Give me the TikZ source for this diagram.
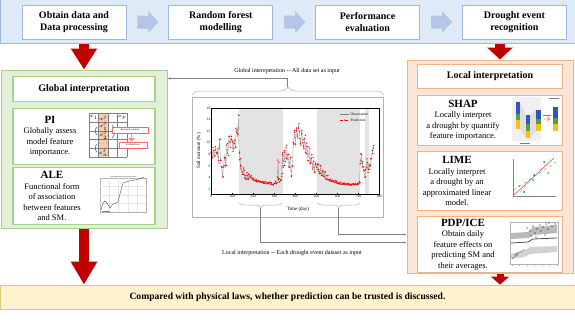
\documentclass[tikz,border=0pt]{standalone}
\usepackage{fontspec}
\setmainfont{Liberation Serif}
\usetikzlibrary{arrows.meta,positioning,calc,shapes.arrows,decorations.pathreplacing}
\definecolor{bc}{RGB}{222,235,247}
\definecolor{bd}{RGB}{157,185,225}
\definecolor{ch}{RGB}{180,197,231}
\definecolor{gc}{RGB}{226,240,217}
\definecolor{gd}{RGB}{169,209,142}
\definecolor{oc}{RGB}{251,229,214}
\definecolor{od}{RGB}{244,177,131}
\definecolor{yc}{RGB}{255,242,204}
\definecolor{yd}{RGB}{222,200,120}
\definecolor{dr}{RGB}{192,0,0}
\definecolor{pc}{RGB}{248,203,173}
\definecolor{sb}{RGB}{47,85,190}
\definecolor{sg}{RGB}{84,160,60}
\definecolor{sy}{RGB}{250,190,20}
\tikzset{stepbox/.style={draw=bd,fill=white,line width=.8pt,minimum width=104pt,minimum height=34pt,align=center,inner sep=1pt,font=\bfseries\fontsize{10}{11.5}\selectfont},
 panel/.style={line width=1pt,inner sep=0pt},
 gbox/.style={draw=gd,fill=white,line width=1.2pt,minimum width=142pt,inner sep=0pt},
 obox/.style={draw=od,fill=white,line width=1.2pt,minimum width=145pt,inner sep=0pt},
 hd/.style={font=\bfseries\fontsize{10}{12}\selectfont},
 txt/.style={align=center,inner sep=0pt,font=\fontsize{8.5}{10.5}\selectfont},
 redarr/.style={dr,line width=10pt,-{Triangle[length=#1,width=25pt]}},redarr/.default=20pt,
 conn/.style={gray,line width=.5pt,-{Latex[length=3pt,width=2.5pt]}},
 brc/.style={gray!60,line width=.5pt,decorate,decoration={brace,amplitude=#1}},brc/.default=8pt,
 lab/.style={font=\fontsize{6}{7}\selectfont},
 tiny/.style={inner sep=0pt,font=\fontsize{2.4}{3}\selectfont},
 tick/.style={inner sep=.5pt,font=\fontsize{3.6}{4}\selectfont}}

\begin{document}
\begin{tikzpicture}[x=1pt,y=-1pt]
\path[use as bounding box,fill=white] (0,0) rectangle (575,324);
\node[draw=bd,fill=bc,line width=.8pt,minimum width=575pt,minimum height=44pt,inner sep=0pt] (band) at (287.5,21.5) {};
\node[stepbox] (s1) at (74,22) {Obtain data and\\Data processing};
\node[stepbox,right=42pt of s1] (s2) {Random forest\\modelling};
\node[stepbox,right=42pt of s2] (s3) {Performance\\evaluation};
\node[stepbox,right=42pt of s3] (s4) {Drought event\\recognition};
\foreach \a/\b in {s1/s2,s2/s3,s3/s4}{\fill[ch] ($(\a.east)!.5!(\b.west)$) ++(-10,-6.5) -- ++(11,0) -- ++(0,-4.5) -- ++(10,11) -- ++(-10,11) -- ++(0,-4.5) -- ++(-11,0) -- cycle;}

\node[panel,draw=gd,fill=gc,minimum width=166pt,minimum height=158pt] (glob) at (84,149) {};
\node[gbox,hd,minimum height=25pt,below=6pt of glob.north] (gi) {Global interpretation};
\node[gbox,minimum height=56pt,below=6pt of gi] (pi) {};
\node[gbox,minimum height=57pt,below=2pt of pi] (ale) {};
\node[txt] at ([xshift=-34pt]pi.center) {\textbf{\fontsize{11}{12.5}\selectfont PI}\\Globally assess\\model feature\\importance.};
\node[txt] at ([xshift=-32pt]ale.center) {\textbf{\fontsize{11}{12.5}\selectfont ALE}\\Functional form\\of association\\between features\\and SM.};

\node[panel,draw=od,fill=oc,minimum width=166pt,minimum height=213pt] (loc) at (490,166.5) {};
\node[obox,hd,minimum height=24pt,below=4pt of loc.north] (li) {Local interpretation};
\node[obox,minimum height=50pt,below=6pt of li] (shap) {};
\node[obox,minimum height=59pt,below=5pt of shap] (lime) {};
\node[obox,minimum height=56pt,below=5pt of lime] (pdp) {};
\node[txt] at ([xshift=-27pt]shap.center) {\textbf{\fontsize{11}{12.5}\selectfont SHAP}\\Locally interpret\\a drought by quantify\\feature importance.};
\node[txt] at ([xshift=-33pt]lime.center) {\textbf{\fontsize{11}{12.5}\selectfont LIME}\\Locally interpret\\a drought by an\\approximated linear\\model.};
\node[txt] at ([xshift=-27pt]pdp.center) {\textbf{\fontsize{11}{12.5}\selectfont PDP/ICE}\\Obtain daily\\feature effects on\\predicting SM and\\their averages.};

\node[draw=yd,fill=yc,line width=.8pt,minimum width=575pt,minimum height=24pt,inner sep=0pt,font=\bfseries\fontsize{9.6}{11}\selectfont] (conc) at (287.5,297) {Compared with physical laws, whether prediction can be trusted is discussed.};

\draw[redarr=21pt] (band.south -| glob.north) -- (glob.north);
\draw[redarr=12pt] ([xshift=10pt]band.south -| loc.north) -- ([xshift=10pt]loc.north);
\draw[redarr=23pt] (glob.south) -- (glob.south |- conc.north);
\draw[dr,line width=7pt,-{Triangle[length=8pt,width=18pt]}] ([xshift=10pt]loc.south) -- ([xshift=10pt]loc.south |- conc.north);

% PI picture
\fill[pc] (98.5,113) rectangle (108,157);
\foreach \i in {0,...,4}{\draw[gray,line width=.2pt] (89+\i*9.5,113) -- ++(0,44);}
\foreach \j in {0,...,5}{\draw[gray,line width=.2pt] (89,113+\j*8.8) -- ++(38,0);}
\foreach \t [count=\i] in {$x_1$,$x^j$,$\cdots$,$x_p$}{\node[tiny] at (84.25+\i*9.5,117.4) {\t};}
\foreach \t [count=\i] in {$x^j_1$,$x^j_2$,$\cdots$,$x^j_n$}{\node[tiny] at (103.25,117.4+\i*8.8) {\t};}
\draw[sb,line width=.5pt] (97,127) to[bend right=50] (97,135);
\draw[sb,line width=.5pt] (97,144) to[bend right=50] (97,152);
\draw[sb,line width=.5pt] (112,125) to[bend left=50] (112,138);
\node[tiny,draw=red!60,fill=white,minimum width=36pt,minimum height=5.5pt] (rp) at (130,130) {Randomly permute};
\node[tiny,draw=red!60,fill=white,minimum width=28pt,minimum height=5.5pt] (el) at (133,145) {Evaluate Loss};
\node[single arrow,fill=red!45,shape border rotate=270,minimum height=8pt,minimum width=7pt,single arrow head extend=1.5pt,inner sep=0pt] at ($(rp.south)!.5!(el.north)$) {};

% ALE picture
\draw[gray!60,line width=.3pt] (100,178) rectangle (146,212);
\foreach \i in {1,...,4}{\draw[gray!20,line width=.2pt] (100+\i*9.2,178) -- ++(0,34);}
\foreach \i in {1,...,3}{\draw[gray!20,line width=.2pt] (100,178+\i*8.5) -- ++(46,0);}
\draw[gray!70!black,line width=.4pt] (101,210) -- (103,203) -- (105,201) -- (107,203) -- (110,208) -- (113,204) -- (116,203) -- (118,202) -- (121,190) -- (123,183) -- (129,181) -- (135,180) -- (144,177);
\draw[sb!70,line width=1pt] (102,211) -- (110,211);
\draw[gray!50,line width=.3pt] (110,176) -- (136,176);

% SHAP picture
\fill[gray!12] (512,97) rectangle (541,141);
\fill[gray!25] (520,102) -- (526,115) -- (526,138) -- (520,129) -- cycle;
\fill[gray!25] (530,115) -- (536,110) -- (536,131) -- (530,138) -- cycle;
\fill[sb] (515.5,102) rectangle (520,114);
\fill[sg] (515.5,114) rectangle (520,120);
\fill[sy] (515.5,120) rectangle (520,129);
\fill[sb] (526,115) rectangle (530,124);
\fill[sg] (526,124) rectangle (530,131);
\fill[sy] (526,131) rectangle (530,138);
\fill[sb] (536,110) rectangle (540.5,119);
\fill[sg] (536,119) rectangle (540.5,124);
\fill[sy] (536,124) rectangle (540.5,131);
\fill[sb] (553,107) rectangle (557.5,118);
\fill[sg] (553,118) rectangle (557.5,124);
\fill[sy] (553,124) rectangle (557.5,131);
\node[single arrow,fill=red!40,minimum height=7pt,minimum width=6pt,single arrow head extend=1.2pt,inner sep=0pt] at (547,119) {};
\draw[gray,line width=.3pt] (543,115) -- (551,115);
\draw[gray,line width=.3pt] (549,98) -- (559,98);
\draw[gray,line width=.3pt] (520,143) -- (530,143);

% LIME picture
\draw[gray,line width=.3pt] (513,159) -- (513,196) -- (556,196);
\draw[red!80,line width=.5pt] (514,195) -- (554,158);
\draw[sg,dashed,line width=.4pt] (514,190) -- (556,162);
\draw[cyan!60,dashed,line width=.4pt] (516,197) -- (552,157);
\foreach \p in {(544,162),(534,175),(524,192)}{\fill[sb] \p circle (1pt);}
\foreach \p in {(519,186),(533,180),(548,173)}{\fill[sg] \p circle (1pt);}

% PDP picture
\draw[gray!60,line width=.3pt] (510,222) rectangle (558,264);
\foreach \i in {0,...,6}{\draw[gray!60,line width=.2pt] (512+\i*7.5,264) -- ++(0,1.5);}
\fill[gray!55] (511,233) -- (528,232) -- (533,227) -- (557,225) -- (557,233) -- (533,235) -- (528,238) -- (511,239) -- cycle;
\draw[black!50!olive,line width=.8pt] (511,243) -- (528,242) -- (533,239) -- (557,238);
\fill[gray!35] (511,254) -- (524,251) -- (530,247) -- (557,246) -- (557,252) -- (530,254) -- (524,257) -- (511,259) -- cycle;
\foreach \p in {(527,228),(530,231),(533,226),(537,229),(540,225),(543,227),(546,224),(549,223),(552,226),(555,224),(535,233),(541,231),(548,229),(531,236),(513,258),(515,256),(517,255),(518,253),(520,252),(522,251),(516,254),(524,250),(536,237),(545,235)}{\fill \p circle (.6pt);}

% chart
\draw[gray!60,line width=.6pt] (192,97) rectangle (383,217);
\begin{scope}[shift={(211,200.57)},x=.2108pt,y=5.786pt]
\fill[gray!22] (134,1.1) rectangle (340,16);
\fill[gray!22] (505,1.1) rectangle (706,16);
\fill[gray!22] (730,1.1) rectangle (750,16);
\draw[gray!90,line width=.35pt] plot coordinates {(0,8.5) (5,7.2) (10,8.8) (15,7.6) (20,9.2) (25,8) (30,8.6) (35,6.8) (40,10.3) (45,7) (50,5.5) (55,4.3) (60,6.2) (65,7.8) (70,5.8) (75,9.4) (80,8.2) (85,10.8) (90,9.6) (95,11.2) (100,10) (105,8.6) (110,10.6) (115,9) (120,12.4) (125,11) (130,14.2) (133,8.8) (137,7.4) (140,6) (145,5.2) (150,4.6) (155,5.4) (160,4.2) (165,3.8) (170,4.6) (175,3.6) (180,4.4) (185,3.9) (190,4.2) (195,3.7) (200,3.5) (210,3.4) (220,3.3) (230,3.2) (240,3.1) (250,3) (260,3) (270,2.9) (280,2.9) (290,2.8) (300,2.9) (305,3.1) (310,3) (315,3.8) (318,6.8) (321,3.5) (325,3.3) (330,3.4) (335,4.5) (338,7.8) (342,6) (346,8.8) (350,6.4) (355,9.2) (360,7) (365,8.2) (370,5.6) (375,7.4) (380,4.4) (385,6.2) (390,9.4) (395,11.6) (400,10.2) (405,12.6) (410,11) (415,13) (420,11.4) (425,9.8) (430,12) (435,10.4) (440,9) (445,10.8) (450,8.2) (455,9.6) (460,7.2) (465,8.8) (470,6.4) (475,7.8) (480,5.8) (485,7) (490,5.2) (495,6.6) (500,5.6) (505,6.4) (510,5.2) (515,4.6) (520,5.8) (525,4.4) (530,5.2) (535,4.2) (540,4.8) (545,3.8) (550,4) (560,3.5) (570,3.3) (580,3.2) (590,3.1) (600,3) (610,2.9) (620,2.8) (630,2.8) (640,2.75) (650,2.7) (660,2.7) (670,2.7) (680,2.75) (690,2.7) (700,2.8) (705,3.1) (708,6.6) (712,7.8) (716,6.4) (720,5.8) (725,5) (730,4.2) (735,5.6) (740,6.8) (745,5.2) (750,6.2) (755,5.8) (760,7.6) (765,8.4) (770,9.4)};
\pgfmathsetseed{11}
\foreach \x/\y in {0/8.5,5/7.2,10/8.8,15/7.6,20/9.2,25/8,30/8.6,35/6.8,40/10.3,45/7,50/5.5,55/4.3,60/6.2,65/7.8,70/5.8,75/9.4,80/8.2,85/10.8,90/9.6,95/11.2,100/10,105/8.6,110/10.6,115/9,120/12.4,125/11,130/14.2,133/8.8,137/7.4,140/6,145/5.2,150/4.6,155/5.4,160/4.2,165/3.8,170/4.6,175/3.6,180/4.4,185/3.9,190/4.2,195/3.7,200/3.6,205/3.6,210/3.5,215/3.4,220/3.4,225/3.3,230/3.3,235/3.3,240/3.2,245/3.2,250/3.1,255/3.1,260/3.1,265/3.1,270/3,275/3,280/3,285/3,290/2.9,295/2.9,300/3,305/3.2,310/3.1,315/4,318/6.8,321/3.6,325/3.4,330/3.5,335/4.5,338/7.8,342/6,346/8.8,350/6.4,355/9.2,360/7,365/8.2,370/5.6,375/7.4,380/4.4,385/6.2,390/9.4,395/11.6,400/10.2,405/12.6,410/11,415/13,420/11.4,425/9.8,430/12,435/10.4,440/9,445/10.8,450/8.2,455/9.6,460/7.2,465/8.8,470/6.4,475/7.8,480/5.8,485/7,490/5.2,495/6.6,500/5.6,505/6.4,510/5.2,515/4.6,520/5.8,525/4.4,530/5.2,535/4.2,540/4.8,545/3.8,550/4.1,555/3.8,560/3.6,565/3.5,570/3.4,575/3.4,580/3.3,585/3.3,590/3.2,595/3.2,600/3.1,605/3.1,610/3,615/3,620/2.9,625/2.9,630/2.9,635/2.9,640/2.85,645/2.85,650/2.8,655/2.8,660/2.8,665/2.8,670/2.8,675/2.8,680/2.85,685/2.8,690/2.8,695/2.85,700/2.9,705/3.2,708/6.6,712/7.8,716/6.4,720/5.8,725/5,730/4.2,735/5.6,740/6.8,745/5.2,750/6.2,755/5.8,760/7.6,765/8.4,770/9.4}{\fill[red] ({\x+2*rand},{\y*(1+.07*rand)}) circle (.75pt); \fill[red] ({\x+2.5+2*rand},{\y*(1+.06*rand)}) circle (.75pt);}
\draw[line width=.4pt] (0,1.1) rectangle (800,16);
\foreach \x in {0,100,...,800}{\draw[line width=.3pt] (\x,1.1) -- ++(0,.25); \node[tick,below] at (\x,1.1) {\x};}
\foreach \y in {2,4,...,16}{\draw[line width=.3pt] (0,\y) -- ++(5,0); \node[tick,left] at (0,\y) {\y};}
\end{scope}
\node[rotate=90,inner sep=0pt,font=\fontsize{5}{6}\selectfont] at (199,151) {Soil moisture (\%)};
\node[inner sep=0pt,font=\fontsize{5}{6}\selectfont] at (298,209) {Time (day)};
\draw[gray,line width=.4pt] (340,114) -- (349,114);
\node[tick,anchor=west] at (350,114) {Observation};
\draw[red,densely dashed,line width=.4pt] (340,120) -- (349,120);
\fill[red] (344.5,120) circle (.6pt);
\node[tick,anchor=west] at (350,120) {Prediction};

% braces and connectors
\draw[brc] (192,95) -- (384,95);
\draw[brc=5pt] (282,202.5) -- (239,202.5);
\draw[brc=5pt] (360,202.5) -- (317,202.5);
\coordinate (gt) at (287.5,87);
\coordinate (t1) at (260.5,207.5);
\coordinate (t2) at (338.5,207.5);
\draw[conn] (gt) |- ([yshift=-9pt]glob.north east);
\draw[conn] (t1) |- ([yshift=31pt]loc.south west);
\draw[conn] (t2) |- ([yshift=39pt]loc.south west);
\node[lab] at (287,71) {Global interepetation -{}- All data set as input};
\node[lab] at (292,253) {Local interpretation -{}- Each drought event dataset as input};
\end{tikzpicture}
\end{document}
